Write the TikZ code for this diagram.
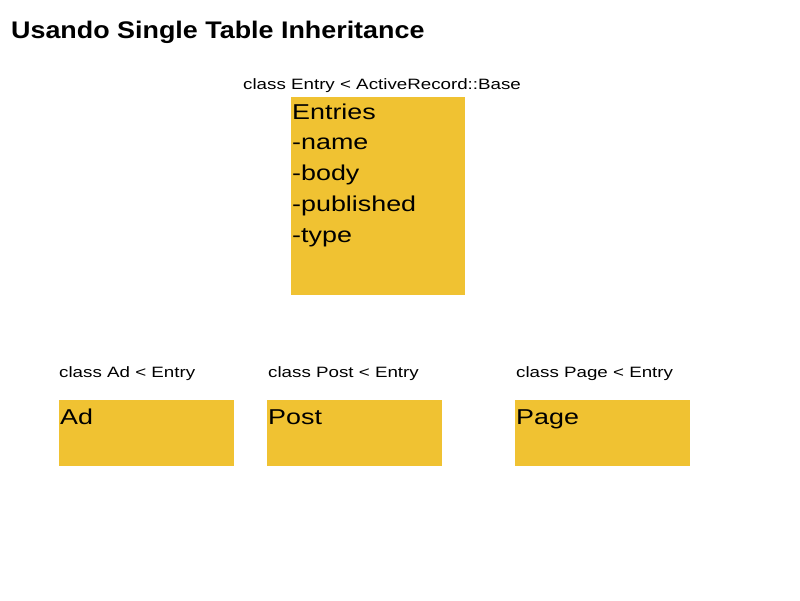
\documentclass[tikz,border=0pt]{standalone}
\usepackage{fontspec}
\setmainfont{Liberation Sans}
\newfontfamily\titlefont[FakeStretch=1.12]{Liberation Sans}
\newfontfamily\wideFont[FakeStretch=1.25]{Liberation Sans}
\definecolor{tableyellow}{RGB}{240,194,50}
\tikzset{
  tablebox/.style={fill=tableyellow, draw=none, anchor=north west, inner sep=0pt},
  classlabel/.style={anchor=base west, inner sep=0pt, font=\wideFont\fontsize{15}{18}\selectfont},
  fieldtext/.style={anchor=base west, inner sep=0pt, align=left, font=\wideFont\fontsize{21.5}{30.7}\selectfont}
}

\begin{document}
\begin{tikzpicture}[x=1pt,y=-1pt]
\useasboundingbox (0,0) rectangle (800,600);
\node[anchor=base west, inner sep=0pt, font=\titlefont\bfseries\fontsize{24}{28}\selectfont] (title) at (11,38) {Usando Single Table Inheritance};

% parent table (base anchor sits on the last line)
\node[classlabel] (entrylabel) at (243,89) {class Entry < ActiveRecord::Base};
\node[tablebox, minimum width=174pt, minimum height=198pt] (entries) at (291,97) {};
\node[fieldtext] (entriesfields) at (292,242) {Entries\\-name\\-body\\-published\\-type};

% subclasses
\node[classlabel] (adlabel) at (59,377) {class Ad < Entry};
\node[classlabel] (postlabel) at (268,377) {class Post < Entry};
\node[classlabel] (pagelabel) at (516,377) {class Page < Entry};

\node[tablebox, minimum width=175pt, minimum height=66pt] (ad) at (59,400) {};
\node[tablebox, minimum width=175pt, minimum height=66pt] (post) at (267,400) {};
\node[tablebox, minimum width=175pt, minimum height=66pt] (page) at (515,400) {};
\node[fieldtext] (adname) at (60,424) {Ad};
\node[fieldtext] (postname) at (268,424) {Post};
\node[fieldtext] (pagename) at (516,424) {Page};
\end{tikzpicture}
\end{document}
